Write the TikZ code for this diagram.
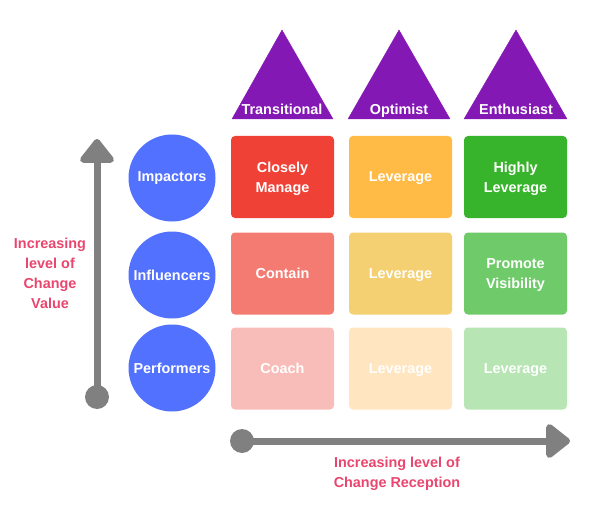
\documentclass[tikz,border=0pt]{standalone}
\usepackage{fontspec}
\setmainfont{Liberation Sans}
\usepackage{xcolor}
\usetikzlibrary{arrows.meta}

\definecolor{tribg}{HTML}{8418B4}
\definecolor{ringbg}{HTML}{5271FF}
\definecolor{axisgray}{HTML}{808080}
\definecolor{labelred}{HTML}{E8466E}
\definecolor{redA}{HTML}{EF4136}
\definecolor{redB}{HTML}{F47B72}
\definecolor{redC}{HTML}{F8BDB8}
\definecolor{orangeA}{HTML}{FFBB45}
\definecolor{orangeB}{HTML}{F5D072}
\definecolor{orangeC}{HTML}{FFE6C0}
\definecolor{greenA}{HTML}{37B42C}
\definecolor{greenB}{HTML}{6FCB6A}
\definecolor{greenC}{HTML}{B8E5B4}

\tikzset{
  txt/.style = {font=\fontsize{14.4}{20}\selectfont\bfseries, align=center},
  cell/.style = {txt, text=white, rounded corners=4pt, minimum width=103pt, minimum height=82pt, inner sep=0pt, text depth=0pt},
  ring/.style = {txt, text=white, circle, fill=ringbg, minimum size=87pt, inner sep=0pt},
  axis/.style = {axisgray, line width=7pt, -{Triangle[length=26pt, width=39pt, round]}},
  dot/.style = {circle, fill=axisgray, minimum size=24pt, inner sep=0pt}
}

\begin{document}
\begin{tikzpicture}[x=1pt, y=-1pt]
        \useasboundingbox (0,0) rectangle (600,524);
        % triangles
        \filldraw[tribg] (232,119)--(282,30)--(333,119)--cycle;
        \filldraw[tribg] (348,119)--(399,30)--(450,119)--cycle;
        \filldraw[tribg] (464,119)--(516,30)--(567,119)--cycle;
        \node[txt, text=white, anchor=base] (trans) at (282,115) {Transitional};
        \node[txt, text=white, anchor=base] (optim) at (399,115) {Optimist};
        \node[txt, text=white, anchor=base] (enthu) at (516,115) {Enthusiast};
        % circles
        \node[ring] (impact) at (172,178) {Impactors};
        \node[ring] (influ) at (172,275) {Influencers};
        \node[ring] (perform) at (172,368) {Performers};
        % grid
        \node[cell, fill=redA] (c11) at (282.5,177) {Closely\\Manage};
        \node[cell, fill=orangeA] (c12) at (400.5,177) {Leverage};
        \node[cell, fill=greenA] (c13) at (515.5,177) {Highly\\Leverage};
        \node[cell, fill=redB] (c21) at (282.5,273.5) {Contain};
        \node[cell, fill=orangeB] (c22) at (400.5,273.5) {Leverage};
        \node[cell, fill=greenB] (c23) at (515.5,273.5) {Promote\\Visibility};
        \node[cell, fill=redC] (c31) at (282.5,368.5) {Coach};
        \node[cell, fill=orangeC] (c32) at (400.5,368.5) {Leverage};
        \node[cell, fill=greenC] (c33) at (515.5,368.5) {Leverage};
        % axes
        \node[dot] (vdot) at (97,397) {};
        \coordinate (vtip) at (97,139);
        \draw[axis] (vdot.center)--(vtip);
        \node[dot] (hdot) at (242,441) {};
        \coordinate (htip) at (570,441);
        \draw[axis] (hdot.center)--(htip);
        % axis labels
        \node[txt, text=labelred] (vlabel) at (50,273) {Increasing\\level of\\Change\\Value};
        \node[txt, text=labelred] (hlabel) at (397,473.5) {Increasing level of\\Change Reception};
        \end{tikzpicture}
\end{document}
